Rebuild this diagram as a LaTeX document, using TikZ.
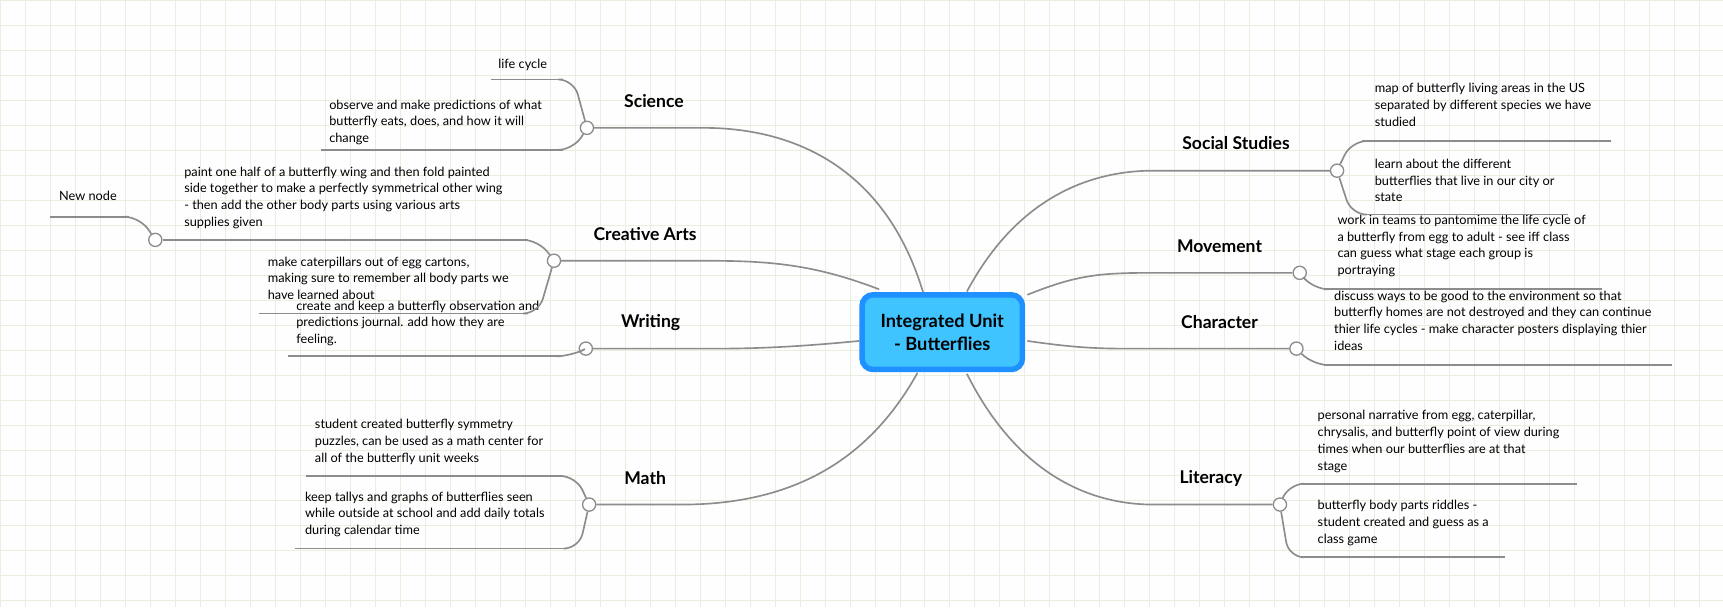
\documentclass[tikz,border=0pt]{standalone}
\usepackage{fontspec}
\setmainfont{Lato}
\usetikzlibrary{positioning}
\definecolor{gridc}{HTML}{E9EFDF}
\definecolor{linec}{HTML}{8C8C8C}
\definecolor{boxfill}{HTML}{40C4FF}
\definecolor{boxdraw}{HTML}{1E90FF}
\tikzset{
  topic/.style={font=\fontsize{8}{9}\selectfont\bfseries, inner sep=0pt},
  leaf/.style={font=\fontsize{5.8}{7.6}\selectfont, align=left, inner sep=0pt, anchor=north west},
  branch/.style={draw=linec, line width=0.75pt},
  knob/.style={circle, draw=linec, fill=white, line width=0.6pt, minimum size=6pt, inner sep=0pt},
}
\begin{document}
\begin{tikzpicture}[x=0.5pt,y=-0.5pt]
	\fill[white!96!gridc] (0,0) rectangle (1568,552);
	\draw[gridc, line width=0.4pt] (0,0) grid[step=11.375pt] (1568,552);
	\useasboundingbox (0,0) rectangle (1568,552);
	% centre
	\node[draw=boxdraw, fill=boxfill, line width=2.5pt, rounded corners=5pt, minimum width=73pt, minimum height=34pt,
	      align=center, font=\fontsize{8.3}{10.5}\selectfont\bfseries] (root) at (857.5,302) {Integrated Unit\\- Butterflies};
	% left side
	\node[topic] (sci) at (595,92) {Science};
	\node[topic] (art) at (587,213) {Creative Arts};
	\node[topic] (wri) at (592,293) {Writing};
	\node[topic] (mat) at (587,435) {Math};
	\node[knob] (ksci) at (534,116) {};
	\node[knob] (kart) at (504,237) {};
	\node[knob] (kwri) at (533,317) {};
	\node[knob] (kmat) at (536,459) {};
	\node[knob] (knew) at (141,218) {};
	\draw[branch] (root.north west) ++(58,0) .. controls (805,150) and (720,116) .. (640,116) -- (ksci);
	\draw[branch] (800,263) .. controls (740,240) and (700,237) .. (640,237) -- (kart);
	\draw[branch] (root.west) ++(0,8) .. controls (700,318) and (660,317) .. (630,317) -- (kwri);
	\draw[branch] (835,339) .. controls (790,420) and (720,459) .. (620,459) -- (kmat);
	% left leaves
	\node[leaf] (lcyc) at (453,53) {life cycle};
	\node[leaf] (lobs) at (299,90) {observe and make predictions of what\\butterfly eats, does, and how it will\\change};
	\node[leaf] (lpai) at (167,151) {paint one half of a butterfly wing and then fold painted\\side together to make a perfectly symmetrical other wing\\- then add the other body parts using various arts\\supplies given};
	\node[leaf] (lcat) at (243,233) {make caterpillars out of egg cartons,\\making sure to remember all body parts we\\have learned about};
	\node[leaf] (lnew) at (53,173) {New node};
	\node[leaf] (ljou) at (269,273) {create and keep a butterfly observation and\\predictions journal. add how they are\\feeling.};
	\node[leaf] (lsym) at (286,381) {student created butterfly symmetry\\puzzles, can be used as a math center for\\all of the butterfly unit weeks};
	\node[leaf] (ltal) at (277,447) {keep tallys and graphs of butterflies seen\\while outside at school and add daily totals\\during calendar time};
	\coordinate (ucyc) at (512,72);
	\coordinate (uobs) at (512,136);
	\coordinate (upai) at (480,218);
	\coordinate (ucat) at (480,285);
	\coordinate (unew) at (117,197);
	\coordinate (ujou) at (510,324);
	\coordinate (usym) at (512,433);
	\coordinate (utal) at (515,499);
	\draw[branch] (447,72) -- (ucyc);
	\draw[branch] (292,136) -- (uobs);
	\draw[branch] (knew) -- (upai);
	\draw[branch] (235,285) -- (ucat);
	\draw[branch] (45,197) -- (unew);
	\draw[branch] (262,324) -- (ujou);
	\draw[branch] (278,433) -- (usym);
	\draw[branch] (268,499) -- (utal);
	\draw[branch, rounded corners=7pt] (ucyc) -- ++(10,0) -- (ksci);
	\draw[branch, rounded corners=7pt] (uobs) -- ++(10,0) -- (ksci);
	\draw[branch, rounded corners=7pt] (upai) -- ++(10,0) -- (kart);
	\draw[branch, rounded corners=7pt] (ucat) -- ++(10,0) -- (kart);
	\draw[branch, rounded corners=7pt] (unew) -- ++(10,0) -- (knew);
	\draw[branch, rounded corners=7pt] (ujou) -- ++(10,0) -- (kwri);
	\draw[branch, rounded corners=7pt] (usym) -- ++(12,0) -- (kmat);
	\draw[branch, rounded corners=7pt] (utal) -- ++(12,0) -- (kmat);
	% right side
	\node[topic] (soc) at (1125,130) {Social Studies};
	\node[topic] (mov) at (1110,224) {Movement};
	\node[topic] (cha) at (1110,293) {Character};
	\node[topic] (lit) at (1102,435) {Literacy};
	\node[knob] (ksoc) at (1217,155) {};
	\node[knob] (kmov) at (1183,248) {};
	\node[knob] (kcha) at (1180,317) {};
	\node[knob] (klit) at (1165,459) {};
	\draw[branch] (880,265) .. controls (920,190) and (980,155) .. (1050,155) -- (ksoc);
	\draw[branch] (935,268) .. controls (980,250) and (1000,248) .. (1050,248) -- (kmov);
	\draw[branch] (935,310) .. controls (990,318) and (1010,317) .. (1050,317) -- (kcha);
	\draw[branch] (880,340) .. controls (920,420) and (980,459) .. (1050,459) -- (klit);
	\node[leaf] (rmap) at (1251,75) {map of butterfly living areas in the US\\separated by different species we have\\studied};
	\node[leaf] (rlea) at (1251,144) {learn about the different\\butterflies that live in our city or\\state};
	\node[leaf] (rpan) at (1217,195) {work in teams to pantomime the life cycle of\\a butterfly from egg to adult - see iff class\\can guess what stage each group is\\portraying};
	\node[leaf] (rdis) at (1214,264) {discuss ways to be good to the environment so that\\butterfly homes are not destroyed and they can continue\\thier life cycles - make character posters displaying thier\\ideas};
	\node[leaf] (rper) at (1199,373) {personal narrative from egg, caterpillar,\\chrysalis, and butterfly point of view during\\times when our butterflies are at that\\stage};
	\node[leaf] (rrid) at (1199,455) {butterfly body parts riddles -\\student created and guess as a\\class game};
	\coordinate (umap) at (1240,128);
	\coordinate (ulea) at (1240,195);
	\coordinate (upan) at (1205,263);
	\coordinate (udis) at (1205,332);
	\coordinate (uper) at (1185,440);
	\coordinate (urid) at (1185,507);
	\draw[branch] (umap) -- (1466,128);
	\draw[branch] (ulea) -- (1427,195);
	\draw[branch] (upan) -- (1458,263);
	\draw[branch] (udis) -- (1522,332);
	\draw[branch] (uper) -- (1435,440);
	\draw[branch] (urid) -- (1370,507);
	\draw[branch, rounded corners=7pt] (umap) -- ++(-10,0) -- (ksoc);
	\draw[branch, rounded corners=7pt] (ulea) -- ++(-10,0) -- (ksoc);
	\draw[branch, rounded corners=7pt] (upan) -- ++(-10,0) -- (kmov);
	\draw[branch, rounded corners=7pt] (udis) -- ++(-10,0) -- (kcha);
	\draw[branch, rounded corners=7pt] (uper) -- ++(-12,0) -- (klit);
	\draw[branch, rounded corners=7pt] (urid) -- ++(-12,0) -- (klit);
\end{tikzpicture}
\end{document}
